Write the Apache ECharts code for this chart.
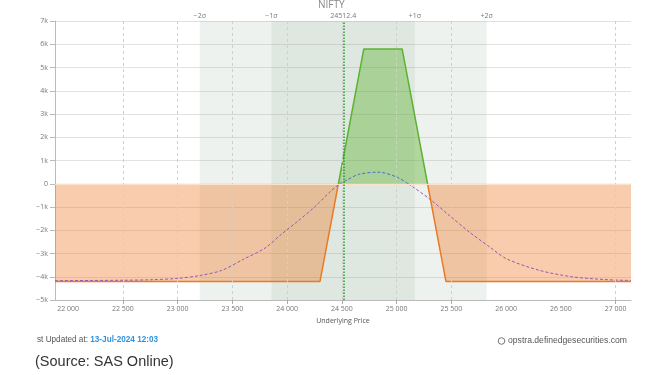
<!DOCTYPE html>
<html>
<head>
<meta charset="utf-8">
<script src="https://cdn.jsdelivr.net/npm/echarts@6/dist/echarts.min.js"></script>
<style>
html,body{margin:0;padding:0;background:#fff;}
#chart{width:671px;height:375px;}
</style>
</head>
<body>
<div id="chart"></div>
<script>
// ---- data ----
const expiryPrice = [21880, 24300, 24468, 24700, 25050, 25282, 25450, 27140];
const expiryPnl   = [-4200, -4200, 0, 5800, 5800, 0, -4200, -4200];

const t0Price = [21880,22200,22500,22750,23000,23200,23400,23600,23800,23950,24100,24250,24400,24480,24550,24650,24830,25000,25105,25150,25300,25480,25670,25850,26000,26300,26600,26900,27140];
const t0Pnl   = [-4170,-4160,-4150,-4130,-4070,-3950,-3730,-3250,-2760,-2160,-1600,-1000,-310,0,170,400,500,290,0,-140,-650,-1360,-2100,-2720,-3220,-3720,-4000,-4120,-4160];

const spotPrice = 24512.4;
const sigmaPrices = [23202, 23857, 25167, 25822];
const sigmaLabels = ['\u22122\u03c3', '\u22121\u03c3', '+1\u03c3', '+2\u03c3'];

const xLabelValues = [22000,22500,23000,23500,24000,24500,25000,25500,26000,26500,27000];
const xGridValues  = [22500,23000,23500,24000,24500,25000,25500,27000];

const xMin = 21880, xMax = 27140;
const yMin = -5000, yMax = 7000, yStep = 1000;

// ---- helpers ----
function fmtX(v){
  const s = String(Math.round(v));
  return s.slice(0, s.length-3) + ' ' + s.slice(s.length-3);
}
function fmtY(v){
  if (v === 0) return '0';
  return (v < 0 ? '\u2212' : '') + Math.abs(v/1000) + 'k';
}
// split a curve into segments at its zero points; each segment keeps its sign
function splitAtZero(xs, ys){
  const segs = [];
  let cur = [];
  for (let i = 0; i < xs.length; i++){
    cur.push([xs[i], ys[i]]);
    if (ys[i] === 0 && i > 0 && i < xs.length - 1){
      segs.push(cur);
      cur = [[xs[i], ys[i]]];
    }
  }
  if (cur.length > 1) segs.push(cur);
  return segs.map(s => ({points: s, positive: s.some(p => p[1] > 0)}));
}

const FONT = 'Open Sans';
const bandColor = 'rgba(143,168,150,0.15)';
const lossLine = '#ec7a25', profitLine = '#5cb232';
const t0Neg = '#9c55b0', t0Pos = '#4a6ad0';

const series = [];
series.push({
  name: 'bands', type: 'line', data: [], z: 1, silent: true,
  markArea: {
    silent: true,
    itemStyle: {color: bandColor},
    data: [
      [{xAxis: sigmaPrices[0]}, {xAxis: sigmaPrices[3]}],
      [{xAxis: sigmaPrices[1]}, {xAxis: sigmaPrices[2]}]
    ]
  },
  markLine: {
    silent: true, symbol: 'none', animation: false,
    label: {show: false},
    lineStyle: {type: [3, 3], color: '#cfcfcf', width: 1},
    data: xGridValues.map(v => ({xAxis: v}))
  }
});

splitAtZero(expiryPrice, expiryPnl).forEach(seg => {
  const c = seg.positive ? profitLine : lossLine;
  series.push({
    type: 'line', z: 3, data: seg.points, symbol: 'none',
    lineStyle: {width: 1.5, color: c}, itemStyle: {color: c},
    areaStyle: {color: c, opacity: seg.positive ? 0.42 : 0.38, origin: 0}
  });
});

series.push({
  name: 'zero', type: 'line', data: [], z: 3.5, silent: true,
  markLine: {
    silent: true, symbol: 'none', animation: false, label: {show: false},
    lineStyle: {type: 'solid', color: '#fae2cd', width: 1},
    data: [{yAxis: 0}]
  }
});

splitAtZero(t0Price, t0Pnl).forEach(seg => {
  const c = seg.positive ? t0Pos : t0Neg;
  series.push({
    type: 'line', z: 4, smooth: 0.3, data: seg.points, symbol: 'none',
    lineStyle: {width: 1, type: [3, 2], color: c}, itemStyle: {color: c}
  });
});

series.push({
  name: 'markers', type: 'line', data: [], z: 5, silent: true,
  markLine: {
    silent: true, symbol: 'none', animation: false,
    label: {position: 'end', distance: 2, fontFamily: FONT, fontSize: 7, color: '#777'},
    data: [
      {xAxis: spotPrice, lineStyle: {color: '#2a9d2a', type: [1.5, 1.5], width: 1.5},
       label: {formatter: String(spotPrice)}},
      ...sigmaPrices.map((p, i) => ({xAxis: p,
        lineStyle: {color: 'rgba(0,0,0,0)', width: 1},
        label: {formatter: sigmaLabels[i]}}))
    ]
  }
});

const chart = echarts.init(document.getElementById('chart'));
const option = {
  animation: false,
  title: {
    text: 'NIFTY', left: 313, top: -5,
    textStyle: {fontFamily: FONT, fontSize: 10, fontWeight: 'normal', color: '#888'}
  },
  grid: {left: 55, right: 40, top: 21, bottom: 75},
  xAxis: {
    type: 'value', min: xMin, max: xMax,
    name: 'Underlying Price', nameLocation: 'middle', nameGap: 17,
    nameTextStyle: {fontFamily: FONT, fontSize: 7, color: '#555'},
    axisLine: {show: true, onZero: false, lineStyle: {color: '#bbb'}},
    axisTick: {show: true, customValues: xGridValues, length: 4, lineStyle: {color: '#aaa'}},
    axisLabel: {customValues: xLabelValues, formatter: fmtX, fontFamily: FONT, fontSize: 7, color: '#777', margin: 5},
    splitLine: {show: false}
  },
  yAxis: {
    type: 'value', min: yMin, max: yMax, interval: yStep,
    axisLine: {show: true, onZero: false, lineStyle: {color: '#bbb'}},
    axisTick: {show: true, length: 5, lineStyle: {color: '#bbb'}},
    axisLabel: {formatter: fmtY, fontFamily: FONT, fontSize: 7, color: '#777', margin: 7},
    splitLine: {show: true, lineStyle: {color: '#e2e2e2'}}
  },
  series: series,
  graphic: [
    {type: 'text', left: 37, top: 336,
     style: {text: '{a|st Updated at: }{b|13-Jul-2024 12:03}',
       rich: {a: {font: '8.2px "Liberation Sans"', fill: '#555'},
              b: {font: 'bold 8.2px "Liberation Sans"', fill: '#2f93e0'}}}},
    {type: 'circle', shape: {cx: 501.5, cy: 341, r: 3.3},
     style: {fill: 'none', stroke: '#666', lineWidth: 0.9}},
    {type: 'text', right: 44, top: 336,
     style: {text: 'opstra.definedgesecurities.com', font: '8.6px "Liberation Sans"', fill: '#555'}},
    {type: 'text', left: 35, top: 354,
     style: {text: '(Source: SAS Online)', font: '14.5px "Liberation Sans"', fill: '#333'}}
  ]
};
chart.setOption(option);
</script>
</body>
</html>
